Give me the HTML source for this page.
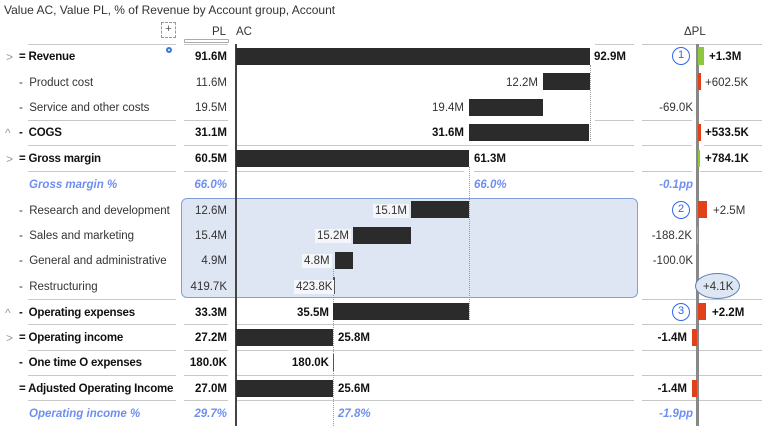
<!DOCTYPE html>
<html><head><meta charset="utf-8"><style>
*{margin:0;padding:0;box-sizing:border-box}
body{width:768px;height:426px;overflow:hidden;background:#fff;font-family:"Liberation Sans",sans-serif;font-size:11.5px;color:#333;position:relative}
div{position:absolute}
.t{white-space:nowrap;line-height:14px;margin-top:1px}
.b{font-weight:bold;color:#111}
.lb{letter-spacing:-0.2px}
.i{font-style:italic;font-weight:bold;color:#6f8ff0}
.r{text-align:right}
.bar{background:#2b2b2b}
.ln{height:1px;background:#c8c8c8}
.lbl{background:#f4f6fa;padding:0 2px}
.c{width:18px;height:18px;border:1.5px solid #3366ee;border-radius:50%;color:#3366ee;text-align:center;line-height:15px;font-size:11px}
.dot{border-left:1px dotted #999}
.ch{color:#999;font-size:12px}
</style></head><body>
<div class="t" style="left:4px;top:2px;font-size:12px;color:#333">Value AC, Value PL, % of Revenue by Account group, Account</div>
<div style="left:161px;top:22px;width:15px;height:16px;border:1px dashed #999;text-align:center;line-height:13px;font-size:11px;color:#555">+</div>
<div class="t" style="left:212px;top:24px">PL</div>
<div class="t" style="left:236px;top:24px">AC</div>
<div class="t" style="left:684px;top:24px">ΔPL</div>
<div style="left:184px;top:39px;width:45px;height:4px;border:1px solid #aaa;border-radius:1px"></div>

<div style="left:181px;top:198px;width:457px;height:100px;background:#dde6f2;border:1px solid #7fa1d8;border-radius:6px"></div>

<div class="ln" style="left:28px;top:44px;width:148px"></div>
<div class="ln" style="left:28px;top:120px;width:148px"></div><div class="ln" style="left:184px;top:120px;width:44px"></div><div class="ln" style="left:595px;top:120px;width:39px"></div><div class="ln" style="left:642px;top:120px;width:50px"></div><div class="ln" style="left:704px;top:120px;width:58px"></div>
<div class="ln" style="left:28px;top:145px;width:148px"></div><div class="ln" style="left:184px;top:145px;width:44px"></div><div class="ln" style="left:236px;top:145px;width:398px"></div><div class="ln" style="left:642px;top:145px;width:50px"></div><div class="ln" style="left:704px;top:145px;width:58px"></div>
<div class="ln" style="left:28px;top:171px;width:148px"></div><div class="ln" style="left:184px;top:171px;width:44px"></div><div class="ln" style="left:236px;top:171px;width:228px"></div><div class="ln" style="left:474px;top:171px;width:160px"></div><div class="ln" style="left:642px;top:171px;width:50px"></div><div class="ln" style="left:700px;top:171px;width:62px"></div>
<div class="ln" style="left:28px;top:299px;width:148px"></div><div class="ln" style="left:642px;top:299px;width:120px"></div>
<div class="ln" style="left:28px;top:324px;width:148px"></div><div class="ln" style="left:184px;top:324px;width:44px"></div><div class="ln" style="left:236px;top:324px;width:398px"></div><div class="ln" style="left:642px;top:324px;width:120px"></div>
<div class="ln" style="left:28px;top:350px;width:148px"></div><div class="ln" style="left:184px;top:350px;width:44px"></div><div class="ln" style="left:236px;top:350px;width:398px"></div><div class="ln" style="left:642px;top:350px;width:120px"></div>
<div class="ln" style="left:28px;top:375px;width:148px"></div><div class="ln" style="left:184px;top:375px;width:44px"></div><div class="ln" style="left:236px;top:375px;width:398px"></div><div class="ln" style="left:642px;top:375px;width:120px"></div>
<div class="ln" style="left:28px;top:400px;width:148px"></div><div class="ln" style="left:184px;top:400px;width:44px"></div><div class="ln" style="left:236px;top:400px;width:398px"></div><div class="ln" style="left:642px;top:400px;width:120px"></div>
<div class="ln" style="left:184px;top:44px;width:44px"></div><div class="ln" style="left:595px;top:44px;width:39px"></div><div class="ln" style="left:642px;top:44px;width:120px"></div>

<div style="left:235px;top:44px;width:1.5px;height:382px;background:#444"></div>
<div style="left:696px;top:44px;width:3px;height:382px;background:#888"></div>

<div class="dot" style="left:590px;top:65px;height:76px"></div>
<div class="dot" style="left:469px;top:167px;height:153px"></div>
<div class="dot" style="left:333px;top:269px;height:157px"></div>

<div class="t ch" style="left:6px;top:49px">&gt;</div>
<div class="t b lb" style="left:19px;top:49px">= Revenue</div>
<div style="left:166px;top:47px;width:6px;height:6px;border:2px solid #3a78d8;border-radius:50%"></div>
<div class="t" style="left:19px;top:75px">-&nbsp; Product cost</div>
<div class="t" style="left:19px;top:100px">-&nbsp; Service and other costs</div>
<div class="t ch" style="left:5px;top:125px">^</div>
<div class="t b lb" style="left:19px;top:125px">-&nbsp; COGS</div>
<div class="t ch" style="left:6px;top:151px">&gt;</div>
<div class="t b lb" style="left:19px;top:151px">= Gross margin</div>
<div class="t i" style="left:29px;top:177px">Gross margin %</div>
<div class="t" style="left:19px;top:203px">-&nbsp; Research and development</div>
<div class="t" style="left:19px;top:228px">-&nbsp; Sales and marketing</div>
<div class="t" style="left:19px;top:253px">-&nbsp; General and administrative</div>
<div class="t" style="left:19px;top:279px">-&nbsp; Restructuring</div>
<div class="t ch" style="left:5px;top:305px">^</div>
<div class="t b lb" style="left:19px;top:305px">-&nbsp; Operating expenses</div>
<div class="t ch" style="left:6px;top:330px">&gt;</div>
<div class="t b lb" style="left:19px;top:330px">= Operating income</div>
<div class="t b lb" style="left:19px;top:355px">-&nbsp; One time O expenses</div>
<div class="t b lb" style="left:19px;top:381px">= Adjusted Operating Income</div>
<div class="t i" style="left:29px;top:406px">Operating income %</div>

<div class="t r b" style="left:160px;width:67px;top:49px">91.6M</div>
<div class="t r" style="left:160px;width:67px;top:75px">11.6M</div>
<div class="t r" style="left:160px;width:67px;top:100px">19.5M</div>
<div class="t r b" style="left:160px;width:67px;top:125px">31.1M</div>
<div class="t r b" style="left:160px;width:67px;top:151px">60.5M</div>
<div class="t r i" style="left:160px;width:67px;top:177px">66.0%</div>
<div class="t r" style="left:160px;width:67px;top:203px">12.6M</div>
<div class="t r" style="left:160px;width:67px;top:228px">15.4M</div>
<div class="t r" style="left:160px;width:67px;top:253px">4.9M</div>
<div class="t r" style="left:160px;width:67px;top:279px">419.7K</div>
<div class="t r b" style="left:160px;width:67px;top:305px">33.3M</div>
<div class="t r b" style="left:160px;width:67px;top:330px">27.2M</div>
<div class="t r b" style="left:160px;width:67px;top:355px">180.0K</div>
<div class="t r b" style="left:160px;width:67px;top:381px">27.0M</div>
<div class="t r i" style="left:160px;width:67px;top:406px">29.7%</div>

<div class="bar" style="left:236px;top:48px;width:354px;height:17px"></div>
<div class="t b" style="left:594px;top:49px">92.9M</div>
<div class="bar" style="left:543px;top:73px;width:47px;height:17px"></div>
<div class="t r" style="left:480px;width:58px;top:75px">12.2M</div>
<div class="bar" style="left:469px;top:99px;width:74px;height:17px"></div>
<div class="t r" style="left:400px;width:64px;top:100px">19.4M</div>
<div class="bar" style="left:469px;top:124px;width:120px;height:17px"></div>
<div class="t r b" style="left:400px;width:64px;top:125px">31.6M</div>
<div class="bar" style="left:236px;top:150px;width:233px;height:17px"></div>
<div class="t b" style="left:474px;top:151px">61.3M</div>
<div class="t i" style="left:474px;top:177px">66.0%</div>
<div class="bar" style="left:411px;top:201px;width:58px;height:17px"></div>
<div class="t lbl" style="left:373px;top:203px">15.1M</div>
<div class="bar" style="left:353px;top:227px;width:58px;height:17px"></div>
<div class="t lbl" style="left:315px;top:228px">15.2M</div>
<div class="bar" style="left:335px;top:252px;width:18px;height:17px"></div>
<div class="t lbl" style="left:302px;top:253px">4.8M</div>
<div style="left:333px;top:277px;width:2px;height:17px;background:#555"></div>
<div class="t lbl" style="left:294px;top:279px">423.8K</div>
<div class="bar" style="left:333px;top:303px;width:136px;height:17px"></div>
<div class="t r b" style="left:270px;width:59px;top:305px">35.5M</div>
<div class="bar" style="left:236px;top:329px;width:97px;height:17px"></div>
<div class="t b" style="left:338px;top:330px">25.8M</div>
<div style="left:333px;top:354px;width:1px;height:17px;background:#555"></div>
<div class="t r b" style="left:270px;width:59px;top:355px">180.0K</div>
<div class="bar" style="left:236px;top:380px;width:97px;height:17px"></div>
<div class="t b" style="left:338px;top:381px">25.6M</div>
<div class="t i" style="left:338px;top:406px">27.8%</div>

<div class="c" style="left:672px;top:47px">1</div>
<div class="c" style="left:672px;top:201px">2</div>
<div class="c" style="left:672px;top:303px">3</div>
<div style="left:698px;top:47px;width:6px;height:18px;background:#8dc63f"></div>
<div class="t b" style="left:709px;top:49px">+1.3M</div>
<div style="left:698px;top:73px;width:3px;height:17px;background:#e0401a"></div>
<div class="t" style="left:705px;top:75px">+602.5K</div>
<div class="t r" style="left:630px;width:63px;top:100px">-69.0K</div>
<div style="left:698px;top:124px;width:3px;height:17px;background:#e0401a"></div>
<div class="t b" style="left:705px;top:125px">+533.5K</div>
<div style="left:698px;top:150px;width:2px;height:17px;background:#8dc63f"></div>
<div class="t b" style="left:705px;top:151px">+784.1K</div>
<div class="t r i" style="left:630px;width:63px;top:177px">-0.1pp</div>
<div style="left:698px;top:201px;width:9px;height:17px;background:#e0401a"></div>
<div class="t" style="left:713px;top:203px">+2.5M</div>
<div style="left:697px;top:227px;width:1px;height:17px;background:#8dc63f"></div>
<div class="t r" style="left:630px;width:62px;top:228px">-188.2K</div>
<div class="t r" style="left:630px;width:63px;top:253px">-100.0K</div>
<div style="left:695px;top:273px;width:45px;height:26px;border:1px solid #5a7fb8;border-radius:50%;background:#dde6f2"></div>
<div class="t" style="left:703px;top:279px">+4.1K</div>
<div style="left:698px;top:303px;width:8px;height:17px;background:#e0401a"></div>
<div class="t b" style="left:712px;top:305px">+2.2M</div>
<div style="left:692px;top:329px;width:5px;height:17px;background:#e0401a"></div>
<div class="t r b" style="left:630px;width:57px;top:330px">-1.4M</div>
<div style="left:692px;top:380px;width:5px;height:17px;background:#e0401a"></div>
<div class="t r b" style="left:630px;width:57px;top:381px">-1.4M</div>
<div class="t r i" style="left:630px;width:63px;top:406px">-1.9pp</div>
</body></html>
